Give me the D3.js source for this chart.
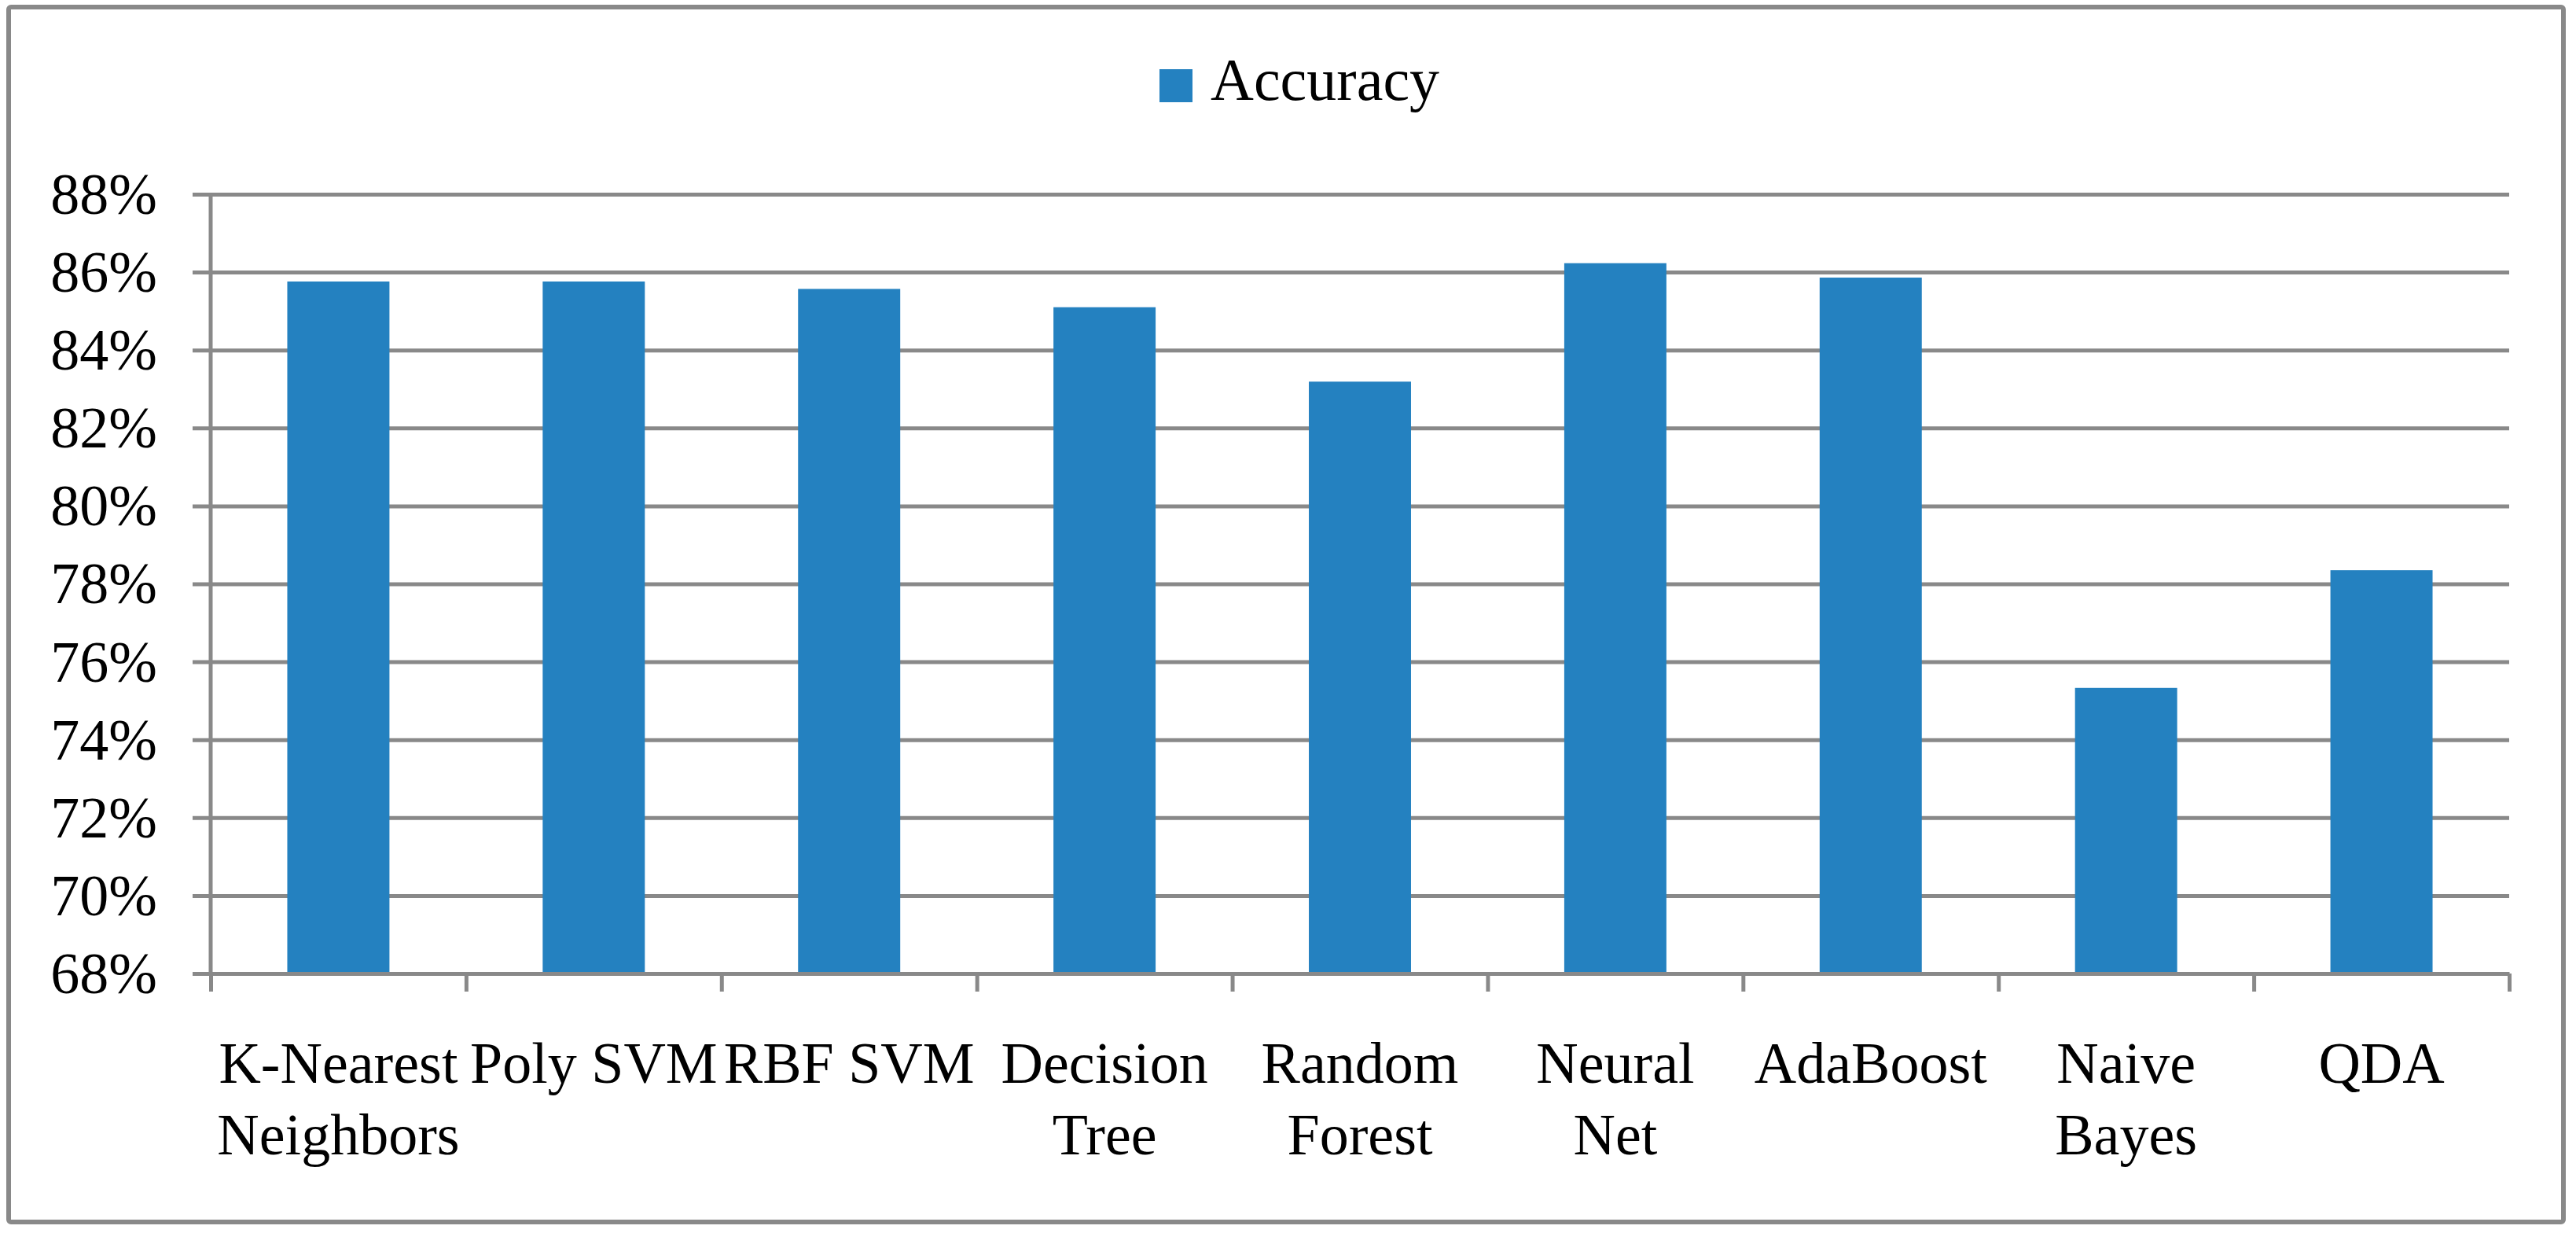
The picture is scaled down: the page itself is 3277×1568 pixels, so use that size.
<!DOCTYPE html>
<html>
<head>
<meta charset="utf-8">
<script src="https://cdn.jsdelivr.net/npm/d3@7"></script>
<style>
body { margin: 0; background: #fff; }
text { font-family: "Liberation Serif", "Times New Roman", serif; fill: #000; }
</style>
</head>
<body>
<svg width="3277" height="1568"></svg>
<script>
// values
var categories = ["K-Nearest\nNeighbors", "Poly SVM", "RBF SVM", "Decision\nTree", "Random\nForest",
	"Neural\nNet", "AdaBoost", "Naive\nBayes", "QDA"];
var accuracy = [85.76, 85.76, 85.57, 85.10, 83.19, 86.23, 85.86, 75.33, 78.35];
var yTicks = [68, 70, 72, 74, 76, 78, 80, 82, 84, 86, 88];
var seriesName = "Accuracy";

var svg = d3.select("svg"),
	width = +svg.attr("width"),
	height = +svg.attr("height");

var gray = "#898989",
	blue = "#2481c0",
	fontSize = 74;

var plotLeft = 268, plotRight = 3192, plotTop = 247, plotBottom = 1238;

// chart border
svg.append("rect")
	.attr("x", 11)
	.attr("y", 9)
	.attr("width", 3250)
	.attr("height", 1545)
	.attr("rx", 3)
	.attr("fill", "none")
	.attr("stroke", gray)
	.attr("stroke-width", 6);

var x = d3.scaleBand()
	.domain(categories)
	.range([plotLeft, plotRight])
	.paddingInner(0.6)
	.paddingOuter(0.3);

var xEdge = d3.scaleLinear()
	.domain([0, categories.length])
	.range([plotLeft, plotRight]);

var y = d3.scaleLinear()
	.domain([68, 88])
	.range([plotBottom, plotTop]);

// y axis with gridlines
var yAxis = svg.append("g")
	.attr("transform", "translate(" + plotLeft + ",0)")
	.call(d3.axisLeft(y)
		.tickValues(yTicks)
		.tickFormat(function(d) { return d + "%"; })
		.tickSizeOuter(0));

yAxis.select(".domain").remove();
yAxis.selectAll(".tick line")
	.attr("x1", -23)
	.attr("x2", plotRight - plotLeft)
	.attr("stroke", gray)
	.attr("stroke-width", 5);
yAxis.selectAll(".tick text")
	.attr("x", -68)
	.attr("dy", "0.33em")
	.style("font-size", fontSize + "px")
	.style("font-family", "Liberation Serif");

svg.append("line")
	.attr("x1", plotLeft)
	.attr("x2", plotLeft)
	.attr("y1", plotTop - 2)
	.attr("y2", plotBottom)
	.attr("stroke", gray)
	.attr("stroke-width", 5);

// bars
svg.append("g")
	.selectAll("rect")
	.data(accuracy)
	.enter().append("rect")
	.attr("x", function(d, i) { return x(categories[i]); })
	.attr("width", x.bandwidth())
	.attr("y", function(d) { return y(d); })
	.attr("height", function(d) { return y(68) - y(d); })
	.attr("fill", blue);

// x axis: ticks at category edges
var xAxis = svg.append("g")
	.attr("transform", "translate(0," + plotBottom + ")")
	.call(d3.axisBottom(xEdge)
		.tickValues(d3.range(categories.length + 1))
		.tickFormat("")
		.tickSize(23)
		.tickSizeOuter(0));

xAxis.select(".domain")
	.attr("stroke", gray)
	.attr("stroke-width", 5);
xAxis.selectAll(".tick line")
	.attr("stroke", gray)
	.attr("stroke-width", 5);

// category labels
var label = svg.append("g")
	.selectAll("text")
	.data(categories)
	.enter().append("text")
	.attr("text-anchor", "middle")
	.attr("x", function(d) { return x(d) + x.bandwidth() / 2; })
	.attr("y", 1377)
	.style("font-size", fontSize + "px");

label.selectAll("tspan")
	.data(function(d) { return d.split("\n"); })
	.enter().append("tspan")
	.attr("x", function() { return d3.select(this.parentNode).attr("x"); })
	.attr("dy", function(d, i) { return i ? 91 : 0; })
	.text(function(d) { return d; });

// legend
var legend = svg.append("g");
legend.append("rect")
	.attr("x", 1475)
	.attr("y", 88)
	.attr("width", 42)
	.attr("height", 42)
	.attr("fill", blue);
legend.append("text")
	.attr("x", 1540)
	.attr("y", 127)
	.style("font-size", (fontSize + 2) + "px")
	.text(seriesName);
</script>
</body>
</html>
